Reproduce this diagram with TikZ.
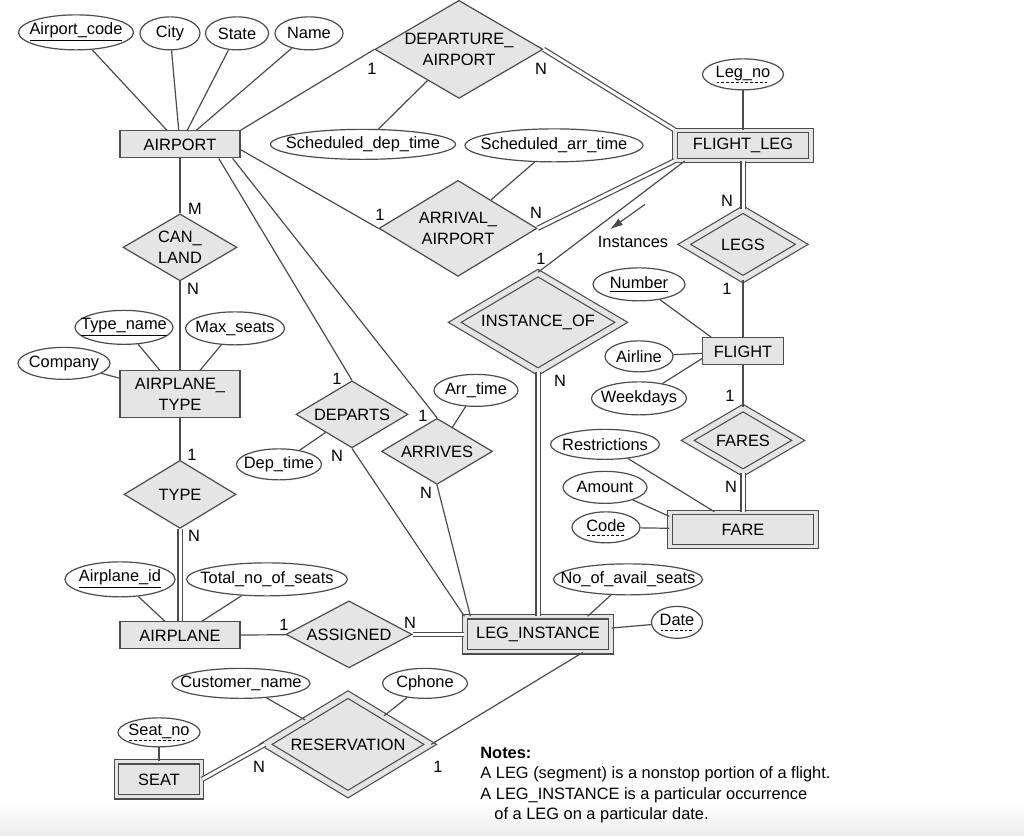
\documentclass[tikz,border=0pt]{standalone}
\usepackage{fontspec}
\setmainfont{Liberation Sans}
\usetikzlibrary{shapes.geometric, arrows.meta}

\definecolor{edgegray}{gray}{0.3}
\definecolor{boxgray}{gray}{0.9}

% key and partial key
\newcommand{\pkey}[1]{\underline{#1}}
\newcommand{\dkey}[1]{\setbox0\hbox{#1}\rlap{\copy0}%
  \raisebox{-2.3pt}{\hbox to \wd0{\leaders\hbox to 2.4pt{\hss\rule{1.4pt}{0.4pt}\hss}\hfill}}}

\tikzset{
  ent/.style 2 args={rectangle, draw=edgegray, fill=boxgray, line width=0.6pt, align=center,
    minimum width=#1, minimum height=#2, inner sep=0pt},
  went/.style 2 args={ent={#1}{#2}, double=boxgray, double distance=1.6pt},
  rel/.style 2 args={diamond, aspect=1.7, draw=edgegray, fill=boxgray, line width=0.6pt, align=center,
    minimum width=#1, minimum height=#2, inner sep=0pt},
  wrel/.style 2 args={rel={#1}{#2}, double=boxgray, double distance=2.6pt},
  attr/.style 2 args={ellipse, draw=edgegray, line width=0.6pt, minimum width=#1, minimum height=#2,
    inner sep=0pt, execute at begin node={\hbox to 0pt\bgroup\hss}, execute at end node={\hss\egroup}},
  card/.style={inner sep=0pt},
  link/.style={draw=edgegray, line width=0.6pt},
  total/.style={link, double, double distance=1.5pt}
}

\begin{document}
\begin{tikzpicture}[x=0.5pt, y=-0.5pt, font=\fontsize{8.2}{10.3}\selectfont]
\fill[white] (0,0) rectangle (1024,834);
\shade[top color=white, bottom color=black!7] (0,800) rectangle (1024,834);

% Entities
\node[ent={60pt}{13.5pt}] (airport) at (180,143) {AIRPORT};
\node[went={68pt}{15pt}] (fleg) at (743,144) {FLIGHT\_LEG};
\node[ent={60pt}{23.5pt}] (ptype) at (180,393) {AIRPLANE\_\\TYPE};
\node[ent={60pt}{13.5pt}] (plane) at (180,634) {AIRPLANE};
\node[went={73pt}{17.5pt}] (leginst) at (538,633) {LEG\_INSTANCE};
\node[ent={40.5pt}{13.5pt}] (flight) at (743,350) {FLIGHT};
\node[went={73pt}{17pt}] (fare) at (743,528) {FARE};
\node[went={42.5pt}{17.5pt}] (seat) at (159,778) {SEAT};

% Relationships
\node[rel={84pt}{49pt}] (depap) at (459,48) {DEPARTURE\_\\AIRPORT};
\node[rel={79pt}{48pt}] (arrap) at (458,227) {ARRIVAL\_\\AIRPORT};
\node[rel={57pt}{33.5pt}] (canland) at (180,246) {CAN\_\\LAND};
\node[rel={56pt}{34pt}] (type) at (180,493) {TYPE};
\node[rel={56pt}{33.5pt}] (departs) at (352,413) {DEPARTS};
\node[rel={55.5pt}{33pt}] (arrives) at (437,450) {ARRIVES};
\node[rel={63pt}{33.5pt}] (assigned) at (349,633) {ASSIGNED};
\node[wrel={83.5pt}{49.5pt}] (instof) at (538,321) {INSTANCE\_OF};
\node[wrel={59pt}{35pt}] (legs) at (743,243) {LEGS};
\node[wrel={55.5pt}{32.5pt}] (fares) at (743,439) {FARES};
\node[wrel={82.5pt}{50pt}] (reserv) at (348,743) {RESERVATION};

% Attributes
\node[attr={57.5pt}{17.5pt}] (apcode) at (76,31) {\pkey{Airport\_code}};
\node[attr={30pt}{16.5pt}] (city) at (170,32) {City};
\node[attr={31.5pt}{16.5pt}] (state) at (237,32) {State};
\node[attr={34pt}{16.5pt}] (apname) at (309,32) {Name};
\node[attr={40.5pt}{15.5pt}] (legno) at (743,73) {\dkey{Leg\_no}};
\node[attr={92.5pt}{15pt}] (sdep) at (363,143) {Scheduled\_dep\_time};
\node[attr={89pt}{16.5pt}] (sarr) at (554,144) {Scheduled\_arr\_time};
\node[attr={49pt}{17pt}] (tname) at (124,326) {\pkey{Type\_name}};
\node[attr={49.5pt}{16.5pt}] (maxseats) at (235,327) {Max\_seats};
\node[attr={46pt}{16pt}] (company) at (64,362) {Company};
\node[attr={42pt}{16pt}] (arrtime) at (476,389) {Arr\_time};
\node[attr={42.5pt}{15.5pt}] (deptime) at (279,463) {Dep\_time};
\node[attr={46pt}{16.5pt}] (number) at (639,283) {\pkey{Number}};
\node[attr={34pt}{15.5pt}] (airline) at (639,355) {Airline};
\node[attr={47.5pt}{16.5pt}] (weekdays) at (639,397) {Weekdays};
\node[attr={54.5pt}{15pt}] (restr) at (605,443) {Restrictions};
\node[attr={42pt}{16pt}] (amount) at (605,486) {Amount};
\node[attr={34pt}{15.5pt}] (code) at (606,526) {\dkey{Code}};
\node[attr={55pt}{17.5pt}] (planeid) at (120,578) {\pkey{Airplane\_id}};
\node[attr={80.5pt}{16.5pt}] (totseats) at (267,578) {Total\_no\_of\_seats};
\node[attr={74.5pt}{15.5pt}] (avail) at (628,578) {No\_of\_avail\_seats};
\node[attr={25.5pt}{16pt}] (date) at (677,621) {\dkey{Date}};
\node[attr={69pt}{15pt}] (cname) at (241,682) {Customer\_name};
\node[attr={42.5pt}{15pt}] (cphone) at (425,682) {Cphone};
\node[attr={41pt}{14.5pt}] (seatno) at (159,731) {\dkey{Seat\_no}};

% Attribute links
\foreach \a in {apcode, city, state, apname} \draw[link] (\a) -- (airport);
\foreach \a in {tname, maxseats, company} \draw[link] (\a) -- (ptype);
\foreach \a in {planeid, totseats} \draw[link] (\a) -- (plane);
\foreach \a in {cname, cphone} \draw[link] (\a) -- (reserv);
\draw[link] (legno) -- (fleg);
\draw[link] (sdep) -- (depap);
\draw[link] (sarr) -- (arrap);
\draw[link] (arrtime) -- (arrives);
\draw[link] (deptime) -- (departs);
\draw[link] (number) -- (flight.156);
\draw[link] (airline) -- (flight);
\draw[link] (weekdays) -- (flight.190);
\draw[link] (restr) -- (fare);
\draw[link] (amount) -- (fare.170);
\draw[link] (code) -- (fare);
\draw[link] (avail) -- (leginst.20);
\draw[link] (date) -- (leginst);
\draw[link] (seatno) -- (seat);

% Relationship links
\draw[link] (airport.north east) -- (depap.west);
\draw[total] (depap.east) -- (fleg.north west);
\draw[link] (airport.-5) -- (arrap.west);
\draw[total] (arrap.east) -- (fleg.south west);
\draw[link] (airport) -- (canland);
\draw[link] (canland) -- (ptype);
\draw[link] (ptype) -- (type);
\draw[total] (type) -- (plane);
\draw[link] (airport.-20) -- (departs.north);
\draw[link] (departs.south) -- (leginst.north west);
\draw[link] (airport.-15) -- (arrives.north);
\draw[link] (arrives.south) -- (leginst.165);
\draw[link] (plane) -- (assigned);
\draw[total] (assigned) -- (leginst);
\draw[link] (fleg.-165) -- (instof.north);
\draw[total] (instof) -- (leginst);
\draw[total] (fleg) -- (legs);
\draw[link] (legs) -- (flight);
\draw[link] (flight) -- (fares);
\draw[total] (fares) -- (fare);
\draw[link] (leginst.-22) -- (reserv.east);
\draw[total] (reserv.west) -- (seat.east);

% Instances arrow
\coordinate (insta) at (645,203);
\coordinate (instb) at (610,228);
\draw[link, -{Latex[length=6.5pt, width=4pt]}] (insta) -- (instb);
\node (instances) at (633,241) {Instances};

% Cardinalities
\foreach \n/\x/\y/\t in {da1/372/67/1, daN/541/67/N, aa1/380/213/1, aaN/536/211/N,
  io1/541/257/1, ioN/560/379/N, lgN/727/199/N, lg1/727/287/1, fr1/730/394/1, frN/731/485/N,
  clM/195/207/M, clN/193/287/N, ty1/192/453/1, tyN/194/534/N, dp1/337/377/1, dpN/337/454/N,
  ar1/423/414/1, arN/426/491/N, as1/284/623/1, asN/410/621/N, rsN/259/765/N, rs1/438/765/1}
  \node[card] (\n) at (\x,\y) {\t};

% Notes
\node[anchor=north west, align=left, inner sep=0pt] (notes) at (480,745)
  {\textbf{Notes:}\\A LEG (segment) is a nonstop portion of a flight.\\
   A LEG\_INSTANCE is a particular occurrence\\\hspace*{7pt}of a LEG on a particular date.};
\end{tikzpicture}
\end{document}
